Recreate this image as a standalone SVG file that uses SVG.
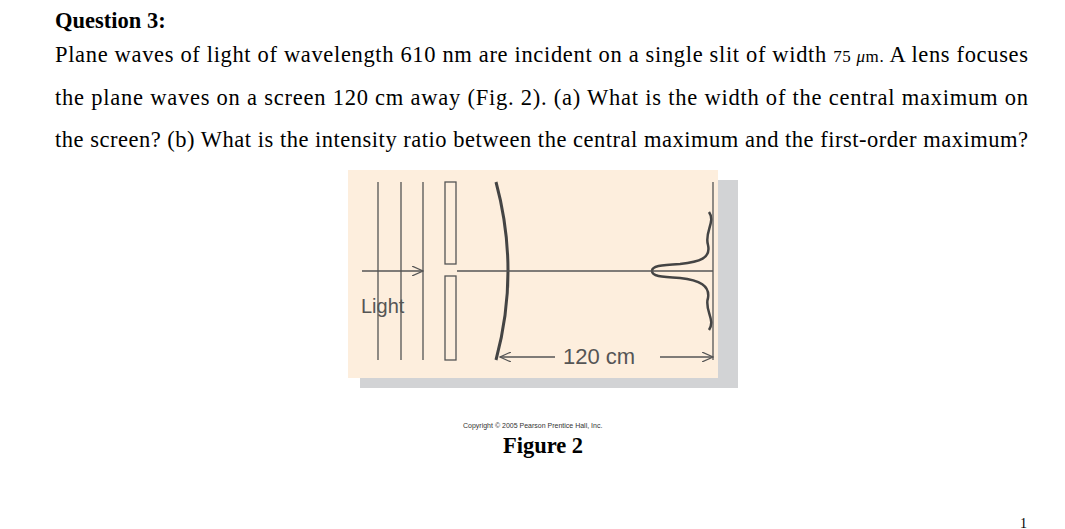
<svg xmlns="http://www.w3.org/2000/svg" width="1065" height="529" viewBox="0 0 1065 529">
<style>
.t{font-family:"Liberation Serif",serif;font-size:22.5px;fill:#000}
.d{stroke:#555;stroke-width:1.3;fill:none}
.h{font-family:"Liberation Sans",sans-serif;fill:#555}
</style>
<defs><marker id="a" markerWidth="12" markerHeight="10" refX="11" refY="5" orient="auto" markerUnits="userSpaceOnUse"><path d="M0,0 L11,5 L0,10" fill="none" stroke="#555" stroke-width="1.2"/></marker></defs>
<rect width="1065" height="529" fill="#fff"/>
<text class="t" x="55" y="28" font-weight="bold" font-size="21.5">Question 3:</text>
<text class="t" x="55" y="62" textLength="973" lengthAdjust="spacing">Plane waves of light of wavelength 610 nm are incident on a single slit of width <tspan font-size="17">75 <tspan font-style="italic">μ</tspan>m.</tspan> A lens focuses</text>
<text class="t" x="55" y="105" textLength="973" lengthAdjust="spacing">the plane waves on a screen 120 cm away (Fig. 2). (a) What is the width of the central maximum on</text>
<text class="t" x="55" y="147" textLength="973" lengthAdjust="spacing">the screen? (b) What is the intensity ratio between the central maximum and the first-order maximum?</text>
<g id="figure">
<rect x="360" y="180" width="378" height="208" fill="#d2d3d5"/>
<rect x="348" y="170" width="370" height="208" fill="#fdeedd"/>
<g id="waves" class="d"><path d="M378,182V360M401,182V360M423,182V360"/></g>
<g id="slit" class="d"><rect x="445" y="182" width="11" height="82"/><rect x="445" y="276" width="11" height="84"/></g>
<g id="lens"><path d="M496,182 Q520,271 496,360" stroke="#444" stroke-width="3" fill="none"/></g>
<g id="screen" class="d"><path d="M713,182V360"/></g>
<g id="pattern"><path d="M709,212 C716,222 704,232 708,245 C711,258 700,262 680,264 C660,265 652,266 652,271 C652,276 660,277 680,278 C700,280 710,286 708,298 C704,310 716,320 709,330" stroke="#444" stroke-width="2.5" fill="none"/></g>
<g id="connectors">
<path class="d" d="M362,271H423" marker-end="url(#a)"/>
<path class="d" d="M457,271H713"/>
<path class="d" d="M555,357H500" marker-end="url(#a)"/>
<path class="d" d="M660,357H713" marker-end="url(#a)"/>
</g>
<text class="h" x="361" y="313" font-size="20">Light</text>
<text class="h" x="563" y="364" font-size="22">120 cm</text>
</g>
<text x="463" y="428" font-family="Liberation Sans,sans-serif" font-size="7" fill="#333">Copyright © 2005 Pearson Prentice Hall, Inc.</text>
<text class="t" x="543" y="453" text-anchor="middle" font-weight="bold">Figure 2</text>
<text x="1020" y="528" font-family="Liberation Serif,serif" font-size="14">1</text>
</svg>
